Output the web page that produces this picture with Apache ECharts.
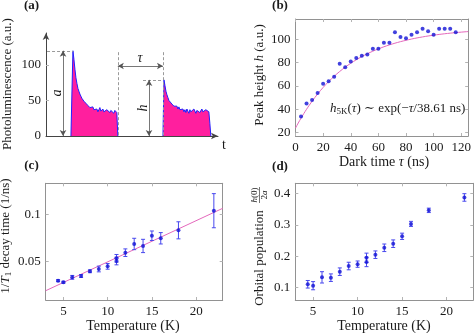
<!DOCTYPE html>
<html>
<head>
<meta charset="utf-8">
<script src="https://cdn.jsdelivr.net/npm/echarts@6/dist/echarts.min.js"></script>
<style>
  html, body { margin: 0; padding: 0; background: #fff; }
  #chart { width: 474px; height: 333px; }
</style>
</head>
<body>
<div id="chart"></div>
<script>
// ---------- (a) photoluminescence trace: two pulses, one sample every pulseStep ----------
const pulseStep = 0.58;
const pulse1Start = 14.5;
const pulse1Values = [0, 62, 120, 108, 94, 82, 74, 67, 63, 59, 56, 53, 52, 49, 48, 46, 45, 43, 44, 40,
  42, 38, 41, 37, 39, 35, 38, 34, 37, 40, 35, 33, 38, 34, 36, 32, 37, 35, 39, 33,
  36, 34, 38, 32, 36, 35, 33, 0];
const pulse2Start = 68.0;
const pulse2Values = [0, 79, 71, 63, 58, 54, 50, 48, 49, 45, 46, 42, 44, 40, 42, 38, 41, 37, 39, 35,
  38, 34, 37, 33, 38, 35, 32, 37, 34, 36, 33, 38, 35, 32, 36, 34, 37, 33, 35, 38,
  34, 36, 33, 37, 35, 36, 34, 18, 0];
const peakA = 120;       // first pulse height a
const peakH = 79;        // second pulse height h
const yTicksA = [0, 50, 100];

// ---------- (b) peak height vs dark time ----------
const darkTime = [4, 8, 12, 16, 20, 24, 28, 32, 36, 40, 44, 48, 52, 56, 60, 64, 68, 72, 76, 80,
  84, 88, 92, 96, 100, 104, 108, 112, 116];
const peakHeight = [34, 45, 48, 54, 62, 64, 68, 79, 76, 81, 84, 86, 87, 92, 92, 97, 97, 106, 102, 101,
  104, 106, 109, 107, 104, 109, 109, 109, 106];
const fitTau = 38.61;    // ns, recovery constant
const fitSat = 110;      // saturation level
const fitAmp = 86;       // recovered amplitude
const xTicksB = [0, 20, 40, 60, 80, 100, 120];
const yTicksB = [20, 40, 60, 80, 100];

// ---------- (c) 1/T1 vs temperature ----------
const tempC = [4.4, 5, 6, 7, 8, 9, 10, 11, 11, 12, 13, 14, 15, 16, 18, 22];
const rateC = [0.0300, 0.0283, 0.0335, 0.0349, 0.0399, 0.0423, 0.0451, 0.0536, 0.0507, 0.0595,
  0.0687, 0.0666, 0.0774, 0.0747, 0.0831, 0.1038];
const rateErrC = [0.001, 0.001, 0.002, 0.0015, 0.0015, 0.003, 0.003, 0.004, 0.004, 0.004,
  0.006, 0.007, 0.005, 0.006, 0.009, 0.018];
const rateFitLine = [[3, 0.0194], [23, 0.1063]];
const xTicksT = [5, 10, 15, 20];
const yTicksC = [0.05, 0.1];

// ---------- (d) orbital population vs temperature ----------
const tempD = [4.4, 5, 6, 7, 8, 9, 10, 11, 11, 12, 13, 14, 15, 16, 18, 22];
const popD = [0.111, 0.1065, 0.133, 0.132, 0.151, 0.169, 0.175, 0.195, 0.182, 0.205,
  0.227, 0.240, 0.2635, 0.303, 0.346, 0.387];
const popErrD = [0.012, 0.013, 0.018, 0.012, 0.012, 0.012, 0.010, 0.015, 0.015, 0.012,
  0.012, 0.012, 0.010, 0.008, 0.007, 0.012];
const yTicksD = [0.1, 0.2, 0.3, 0.4];

// ---------- styles ----------
const SERIF = '"Liberation Serif", "DejaVu Serif", serif';
const textColor = '#1a1a1a';
const axisGray = '#929292';
const tickGray = '#b4b4b4';
const markBlue = '#1212d6';
const barBlue = '#4848ee';
const fitPink = '#e468bc';
const fillPink = '#ff1f9e';
const traceBlue = '#2222ff';
const annGray = '#9a9a9a';
const arrowColor = '#555';
const TITLE = 14;        // horizontal axis title size
const VTITLE = 13;       // vertical axis title size
const TICK = 13;         // tick label size

const pulse1 = pulse1Values.map((v, i) => [pulse1Start + i * pulseStep, v]);
const pulse2 = pulse2Values.map((v, i) => [pulse2Start + i * pulseStep, v]);
const pulse1End = pulse1Start + (pulse1Values.length - 1) * pulseStep;
const peak1Time = pulse1Start + 2 * pulseStep;

const fitCurve = [];
for (let t = 0; t <= 125; t += 1) fitCurve.push([t, fitSat - fitAmp * Math.exp(-t / fitTau)]);

function valueAxis(gridIndex, position, min, max, ticks, showLabel, fmt) {
  return {
    type: 'value', gridIndex, position, min, max, scale: true,
    axisLine: { show: true, onZero: false, lineStyle: { color: axisGray, width: 1 } },
    axisTick: { show: true, inside: true, length: 3, customValues: ticks, lineStyle: { color: tickGray } },
    axisLabel: { show: showLabel, customValues: ticks, formatter: fmt, color: textColor,
      fontFamily: SERIF, fontSize: TICK, margin: 5 },
    splitLine: { show: false }
  };
}

function errorBars(xi, yi, xs, ys, es) {
  return {
    type: 'custom', xAxisIndex: xi, yAxisIndex: yi, z: 2, silent: true,
    data: xs.map((x, i) => [x, ys[i], es[i]]),
    renderItem(params, api) {
      const x = api.value(0), y = api.value(1), e = api.value(2);
      const hi = api.coord([x, y + e]), lo = api.coord([x, y - e]);
      const cap = 2;
      const style = { stroke: barBlue, lineWidth: 1 };
      return { type: 'group', children: [
        { type: 'line', shape: { x1: hi[0], y1: hi[1], x2: lo[0], y2: lo[1] }, style },
        { type: 'line', shape: { x1: hi[0] - cap, y1: hi[1], x2: hi[0] + cap, y2: hi[1] }, style },
        { type: 'line', shape: { x1: lo[0] - cap, y1: lo[1], x2: lo[0] + cap, y2: lo[1] }, style }
      ] };
    }
  };
}

function dots(xi, yi, xs, ys) {
  return { type: 'scatter', xAxisIndex: xi, yAxisIndex: yi, z: 3, silent: true,
    symbol: 'circle', symbolSize: 4, itemStyle: { color: markBlue },
    data: xs.map((x, i) => [x, ys[i]]) };
}

const dashed = { color: annGray, width: 1, type: [3, 2] };
const arrowLine = { color: arrowColor, width: 0.8, type: 'solid' };

const chart = echarts.init(document.getElementById('chart'));

chart.setOption({
  animation: false,
  grid: [
    { left: 46, top: 33, width: 172, height: 103 },
    { left: 295.5, top: 19, width: 178.6, height: 117 },
    { left: 45.7, top: 183.3, width: 177, height: 116.7 },
    { left: 295.3, top: 183.3, width: 178, height: 116.7 }
  ],
  xAxis: [
    { type: 'value', gridIndex: 0, min: 0, max: 100,
      axisLine: { show: true, onZero: false, symbol: ['none', 'arrow'], symbolSize: [5, 7],
        lineStyle: { color: '#444', width: 1 } },
      axisTick: { show: false }, axisLabel: { show: false }, splitLine: { show: false } },
    valueAxis(1, 'bottom', 0, 125, xTicksB, true),
    valueAxis(1, 'top', 0, 125, xTicksB, false),
    valueAxis(2, 'bottom', 3, 23, xTicksT, true),
    valueAxis(2, 'top', 3, 23, xTicksT, false),
    valueAxis(3, 'bottom', 3, 23, xTicksT, true),
    valueAxis(3, 'top', 3, 23, xTicksT, false)
  ],
  yAxis: [
    { type: 'value', gridIndex: 0, min: 0, max: 145,
      axisLine: { show: true, onZero: false, symbol: ['none', 'arrow'], symbolSize: [5, 7],
        lineStyle: { color: '#444', width: 1 } },
      axisTick: { show: true, inside: true, length: 3, customValues: [50, 100], lineStyle: { color: tickGray } },
      axisLabel: { customValues: yTicksA, color: textColor, fontFamily: SERIF, fontSize: TICK, margin: 5 },
      splitLine: { show: false } },
    valueAxis(1, 'left', 17.2, 117.4, yTicksB, true),
    valueAxis(1, 'right', 17.2, 117.4, yTicksB, false),
    valueAxis(2, 'left', 0.0096, 0.1327, yTicksC, true, v => String(Number(v.toFixed(2)))),
    valueAxis(2, 'right', 0.0096, 0.1327, yTicksC, false),
    valueAxis(3, 'left', 0.061, 0.432, yTicksD, true, v => v.toFixed(1)),
    valueAxis(3, 'right', 0.061, 0.432, yTicksD, false)
  ],
  series: [
    // (a) trace, filled below
    { type: 'line', xAxisIndex: 0, yAxisIndex: 0, data: pulse1, showSymbol: false, silent: true,
      lineStyle: { color: traceBlue, width: 1 }, areaStyle: { color: fillPink, opacity: 1 },
      markLine: {
        silent: true, symbol: ['none', 'none'], animation: false, label: { show: false },
        lineStyle: dashed,
        data: [
          [{ coord: [0.6, peakA] }, { coord: [peak1Time, peakA] }],
          [{ coord: [pulse1End, 118] }, { coord: [pulse1End, 0] }],
          [{ coord: [pulse2Start, 118] }, { coord: [pulse2Start, 0] }],
          [{ coord: [56.4, peakH] }, { coord: [pulse2Start, peakH] }],
          [{ coord: [9.9, peakA], symbol: 'arrow', symbolSize: [5, 6], lineStyle: arrowLine },
           { coord: [9.9, 0], symbol: 'arrow', symbolSize: [5, 6] }],
          [{ coord: [59.9, peakH], symbol: 'arrow', symbolSize: [5, 6], lineStyle: arrowLine },
           { coord: [59.9, 0], symbol: 'arrow', symbolSize: [5, 6] }],
          [{ coord: [pulse1End, 98.6], symbol: 'arrow', symbolSize: [5, 6], lineStyle: arrowLine },
           { coord: [pulse2Start, 98.6], symbol: 'arrow', symbolSize: [5, 6] }]
        ]
      } },
    { type: 'line', xAxisIndex: 0, yAxisIndex: 0, data: pulse2, showSymbol: false, silent: true,
      lineStyle: { color: traceBlue, width: 1 }, areaStyle: { color: fillPink, opacity: 1 } },

    // (b) recovery fit and measured peaks
    { type: 'line', xAxisIndex: 1, yAxisIndex: 1, data: fitCurve, showSymbol: false, silent: true,
      smooth: false, lineStyle: { color: fitPink, width: 1 }, z: 1 },
    dots(1, 1, darkTime, peakHeight),

    // (c) linear fit, error bars, points
    { type: 'line', xAxisIndex: 3, yAxisIndex: 3, data: rateFitLine, showSymbol: false, silent: true,
      lineStyle: { color: fitPink, width: 1 }, z: 1 },
    errorBars(3, 3, tempC, rateC, rateErrC),
    dots(3, 3, tempC, rateC),

    // (d) error bars, points
    errorBars(5, 5, tempD, popD, popErrD),
    dots(5, 5, tempD, popD)
  ]
});

// ---------- text: panel tags, axis titles, annotations ----------
function txt(x, y, text, size, opts) {
  const o = opts || {};
  const style = { text, textAlign: o.align || 'center', textVerticalAlign: 'middle',
    fontFamily: SERIF, fontSize: size, fill: textColor };
  if (o.bold) style.fontWeight = 'bold';
  if (o.rich) style.rich = o.rich;
  const el = { type: 'text', x, y, silent: true, style };
  if (o.vertical) el.rotation = Math.PI / 2;
  return el;
}
const it = size => ({ fontStyle: 'italic', fontFamily: SERIF, fontSize: size, fill: textColor });
const sub = size => ({ fontFamily: SERIF, fontSize: size, fill: textColor, padding: [5, 0, 0, 0] });

const pa = chart.convertToPixel({ gridIndex: 0 }, [6.4, 60.6]);
const ph = chart.convertToPixel({ gridIndex: 0 }, [56.4, 39.4]);
const pt = chart.convertToPixel({ gridIndex: 0 }, [54.7, 109.9]);

const graphics = [
  txt(31.5, 6, '(a)', 13, { bold: true }),
  txt(280, 6, '(b)', 13, { bold: true }),
  txt(31.5, 166, '(c)', 13, { bold: true }),
  txt(280, 167, '(d)', 13, { bold: true }),

  txt(8, 84, 'Photoluminescence (a.u.)', VTITLE, { vertical: true }),
  txt(224, 145, 't', TITLE),
  txt(pa[0], pa[1], '{i|a}', TITLE, { vertical: true, rich: { i: it(TITLE) } }),
  txt(ph[0], ph[1], '{i|h}', TITLE, { vertical: true, rich: { i: it(TITLE) } }),
  txt(pt[0], pt[1], '{i|\u03c4}', TITLE, { rich: { i: it(TITLE) } }),

  txt(259.5, 75, 'Peak height {i|h} (a.u.)', VTITLE, { vertical: true, rich: { i: it(VTITLE) } }),
  txt(384, 162.5, 'Dark time {i|\u03c4} (ns)', TITLE, { rich: { i: it(TITLE) } }),
  txt(330, 109, '{i|h}{s|5K}({i|\u03c4}) \u223c exp(\u2212{i|\u03c4}/38.61 ns)', 13,
    { align: 'left', rich: { i: it(13), s: sub(9) } }),

  txt(6, 236, '1/{i|T}{s|1} decay time (1/ns)', VTITLE, { vertical: true, rich: { i: it(VTITLE), s: sub(9) } }),
  txt(133, 326.5, 'Temperature (K)', TITLE),

  txt(259.5, 258, 'Orbital population', VTITLE, { vertical: true }),
  { type: 'group', x: 259.5, y: 195, rotation: Math.PI / 2, silent: true, children: [
    txt(0, -5, '{i|h}(0)', 9, { rich: { i: it(9) } }),
    { type: 'line', shape: { x1: -8, y1: 0, x2: 8, y2: 0 }, style: { stroke: textColor, lineWidth: 0.6 } },
    txt(0, 5.5, '2{i|a}', 9, { rich: { i: it(9) } })
  ] },
  txt(384, 326.5, 'Temperature (K)', TITLE)
];

chart.setOption({ graphic: graphics });
</script>
</body>
</html>
